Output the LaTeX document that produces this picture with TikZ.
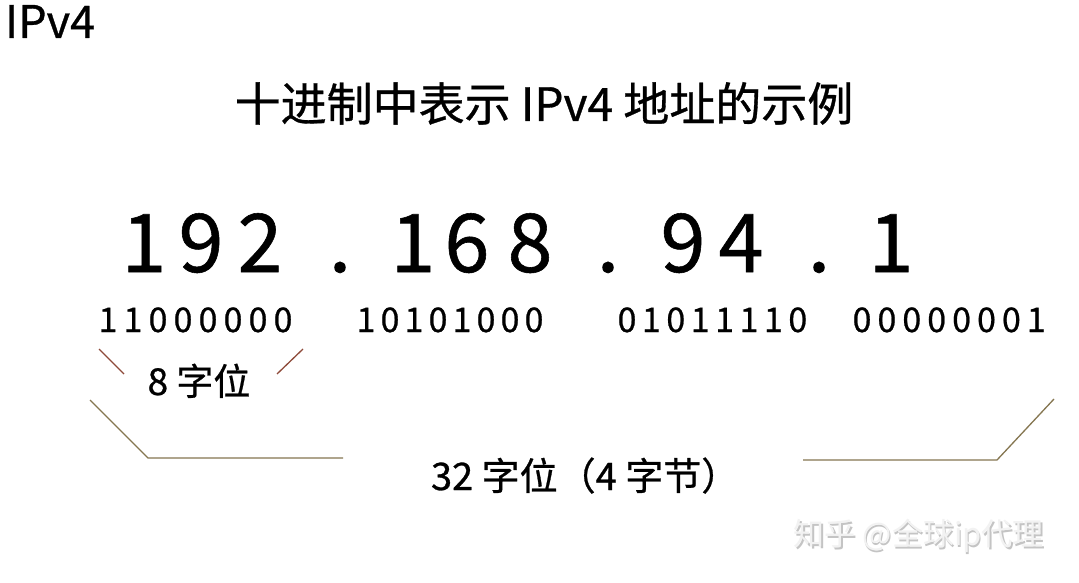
\documentclass[tikz,border=0pt]{standalone}
\usepackage{fontspec}
\setmainfont{Noto Sans CJK SC}[FakeBold=0.7]
\newfontfamily\wmfont{Noto Sans CJK SC}
\definecolor{brkc}{HTML}{857650}
\definecolor{brkr}{HTML}{8E4A3A}
\definecolor{wmark}{HTML}{F2F2F2}
\definecolor{wshadow}{HTML}{C4C4C4}
\begin{document}
\begin{tikzpicture}[x=1pt,y=-1pt,
  txt/.style={inner sep=0pt, outer sep=0pt, anchor=base},
  bigdigit/.style={txt, font=\fontsize{81}{81}\selectfont},
  bindigit/.style={txt, font=\fontsize{34}{34}\selectfont},
  brkline/.style={draw=brkc, line width=1.3pt},
  brksmall/.style={draw=brkr, line width=1.3pt}]
\useasboundingbox (0,0) rectangle (1079,583);
\fill[white] (0,0) rectangle (1079,583);

% headings
\node[txt, anchor=base west, font=\fontsize{45}{45}\selectfont] (ipv) at (5,38) {IPv4};
\node[txt, font=\fontsize{46}{46}\selectfont] (title) at (544,121) {十进制中表示 IPv4 地址的示例};

% dotted decimal address
\foreach \c/\x [count=\i] in {1/144,9/201,2/260,./340,1/413,6/467,8/530,./608,9/683,4/741,./819,1/891}
  \node[bigdigit] (d\i) at (\x,272) {\c};

% binary octets
\foreach \c [count=\i] in {1,1,0,0,0,0,0,0}
  \node[bindigit] (a\i) at ({108+(\i-1)*25},332) {\c};
\foreach \c [count=\i] in {1,0,1,0,1,0,0,0}
  \node[bindigit] (b\i) at ({366+(\i-1)*24},332) {\c};
\foreach \c [count=\i] in {0,1,0,1,1,1,1,0}
  \node[bindigit] (c\i) at ({627+(\i-1)*24.4},332) {\c};
\foreach \c [count=\i] in {0,0,0,0,0,0,0,1}
  \node[bindigit] (e\i) at ({862+(\i-1)*24.9},332) {\c};

% labels
\node[txt, font=\fontsize{37}{37}\selectfont] (eight) at (199,395) {8 字位};
\node[txt, anchor=base west, font=\fontsize{38}{38}\selectfont] (thirtytwo) at (431,490) {32 字位（4 字节）};

% brackets
\coordinate (s1a) at (99,349);  \coordinate (s1b) at (124,374);
\coordinate (s2a) at (303,349); \coordinate (s2b) at (277,374);
\draw[brksmall] (s1a) -- (s1b);
\draw[brksmall] (s2a) -- (s2b);
\coordinate (l1) at (90,400); \coordinate (l2) at (148,458); \coordinate (l3) at (343,458);
\coordinate (r1) at (803,460); \coordinate (r2) at (997,460); \coordinate (r3) at (1054,399);
\draw[brkline] (l1) -- (l2) -- (l3);
\draw[brkline] (r1) -- (r2) -- (r3);

% watermark
\node[txt, anchor=base west, text=wshadow, font=\wmfont\fontsize{31}{31}\selectfont] (wms) at (795,547) {知乎 @全球ip代理};
\node[txt, anchor=base west, text=wmark, font=\wmfont\fontsize{31}{31}\selectfont] (wm) at (793.8,545.8) {知乎 @全球ip代理};
\end{tikzpicture}
\end{document}
